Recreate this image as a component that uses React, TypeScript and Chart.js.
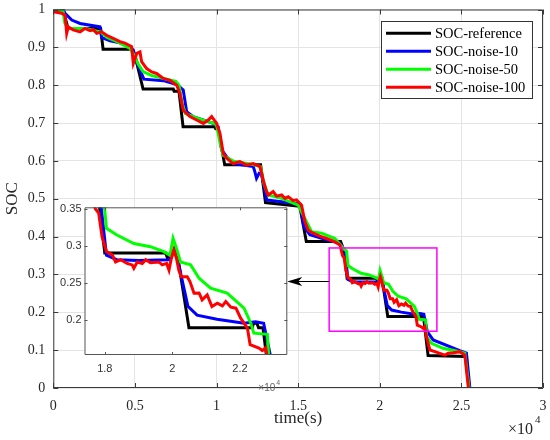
import React, { useEffect, useRef } from "react";
import { Chart, registerables } from "chart.js";
Chart.register(...registerables);

// ---------- data (time in seconds, SOC 0..1) ----------
const refT = [0, 600, 900, 2900, 3050, 4800, 4950, 5050, 5500, 7350, 7400, 7700, 7950, 9900, 9950, 10100, 10500, 12700, 13000, 15100, 15500, 17600, 17820, 18000, 19800, 19850, 19970, 20000, 20140, 20490, 22360, 22400, 22500, 22550, 22680, 22960, 25300, 25470];
const refSOC = [1.0, 1.0, 0.95, 0.95, 0.895, 0.895, 0.885, 0.87, 0.79, 0.79, 0.784, 0.784, 0.69, 0.69, 0.685, 0.685, 0.59, 0.59, 0.49, 0.48, 0.387, 0.387, 0.362, 0.29, 0.29, 0.284, 0.284, 0.29, 0.29, 0.189, 0.189, 0.195, 0.195, 0.189, 0.189, 0.086, 0.083, 0];

const n10T = [0, 600, 720, 1130, 1640, 2860, 2960, 3470, 4080, 4490, 4900, 5140, 5550, 6740, 7560, 7760, 7960, 8170, 8570, 9800, 10100, 10310, 10620, 11020, 12250, 12350, 12450, 12610, 12760, 12960, 13070, 14000, 15110, 15350, 15720, 16640, 17560, 17870, 18050, 18360, 19000, 19900, 20070, 20200, 20460, 20730, 21320, 22120, 22460, 22700, 22910, 23270, 24900, 25310, 25520];
const n10SOC = [1.0, 1.0, 0.99, 0.972, 0.963, 0.954, 0.926, 0.917, 0.912, 0.906, 0.893, 0.857, 0.816, 0.812, 0.802, 0.795, 0.787, 0.73, 0.717, 0.699, 0.69, 0.629, 0.611, 0.593, 0.585, 0.571, 0.554, 0.567, 0.565, 0.523, 0.497, 0.492, 0.486, 0.426, 0.405, 0.393, 0.382, 0.362, 0.287, 0.281, 0.28, 0.281, 0.296, 0.272, 0.218, 0.206, 0.2005, 0.195, 0.197, 0.195, 0.149, 0.127, 0.0985, 0.092, 0];

const n50T = [0, 600, 700, 900, 2000, 2900, 3300, 4000, 4700, 4850, 5000, 5200, 5500, 6000, 7000, 7500, 7700, 7900, 8100, 9000, 9800, 10000, 10200, 10400, 11000, 12300, 12700, 12900, 13170, 13990, 15000, 15410, 15820, 16440, 17250, 17760, 17970, 18050, 18360, 18860, 19350, 19750, 19930, 20020, 20120, 20240, 20540, 20790, 21130, 21620, 22120, 22320, 22410, 22810, 22870, 23170, 23880, 24900, 25210, 25470];
const n50SOC = [1.0, 0.995, 0.965, 0.95, 0.95, 0.94, 0.926, 0.913, 0.897, 0.886, 0.876, 0.856, 0.836, 0.826, 0.815, 0.81, 0.8, 0.75, 0.725, 0.71, 0.7, 0.695, 0.65, 0.615, 0.6, 0.59, 0.585, 0.54, 0.51, 0.501, 0.483, 0.448, 0.413, 0.409, 0.395, 0.369, 0.362, 0.3235, 0.3145, 0.303, 0.2987, 0.292, 0.287, 0.31, 0.2965, 0.278, 0.274, 0.256, 0.2424, 0.2357, 0.2154, 0.195, 0.1816, 0.18, 0.1355, 0.118, 0.105, 0.096, 0.092, 0];

const n100T = [0, 510, 720, 820, 920, 1220, 1640, 1940, 2250, 2450, 2660, 2960, 3270, 3670, 4080, 4390, 4800, 4900, 5110, 5310, 5410, 5720, 6030, 6330, 6740, 7150, 7560, 7760, 7960, 8370, 8780, 9190, 9490, 9700, 10010, 10210, 10410, 10620, 11020, 11430, 11840, 12250, 12660, 12860, 13070, 13170, 13470, 13680, 13990, 14190, 14390, 14700, 14900, 15210, 15410, 15620, 15920, 16330, 16740, 17250, 17560, 17720, 17820, 17920, 18050, 18220, 18320, 18470, 18660, 18810, 18860, 18960, 19110, 19210, 19350, 19600, 19700, 19830, 19900, 19970, 20040, 20120, 20190, 20260, 20440, 20520, 20640, 20790, 20880, 21030, 21170, 21330, 21480, 21580, 21730, 21880, 22020, 22220, 22300, 22560, 22660, 22760, 22860, 23070, 23380, 23680, 23990, 24190, 24500, 24900, 25210, 25430];
const n100SOC = [0.994, 0.99, 0.985, 0.937, 0.954, 0.946, 0.941, 0.95, 0.944, 0.947, 0.937, 0.941, 0.932, 0.924, 0.915, 0.911, 0.902, 0.858, 0.884, 0.888, 0.862, 0.844, 0.835, 0.831, 0.818, 0.813, 0.8, 0.778, 0.734, 0.717, 0.708, 0.699, 0.708, 0.717, 0.699, 0.673, 0.62, 0.607, 0.593, 0.598, 0.589, 0.593, 0.585, 0.549, 0.518, 0.51, 0.519, 0.507, 0.51, 0.501, 0.505, 0.495, 0.497, 0.483, 0.44, 0.417, 0.409, 0.401, 0.395, 0.386, 0.378, 0.35, 0.344, 0.312, 0.292, 0.2875, 0.278, 0.281, 0.276, 0.274, 0.2695, 0.278, 0.276, 0.281, 0.277, 0.278, 0.274, 0.276, 0.267, 0.283, 0.294, 0.283, 0.267, 0.258, 0.258, 0.2514, 0.2357, 0.236, 0.2266, 0.2334, 0.2176, 0.2222, 0.2185, 0.2243, 0.2167, 0.2154, 0.2019, 0.1884, 0.166, 0.1613, 0.158, 0.162, 0.1355, 0.1004, 0.096, 0.0916, 0.087, 0.0916, 0.093, 0.096, 0.087, 0];

const seriesNames = ["SOC-reference", "SOC-noise-10", "SOC-noise-50", "SOC-noise-100"];
const seriesColors = ["#000000", "#0000ff", "#00ff00", "#ff0000"];

const mainXTicks = [0, 5000, 10000, 15000, 20000, 25000, 30000];
const mainYTicks = [0, 0.1, 0.2, 0.3, 0.4, 0.5, 0.6, 0.7, 0.8, 0.9, 1];
const insetXTicks = [18000, 20000, 22000];
const insetYTicks = [0.2, 0.25, 0.3, 0.35];

// zoom window (data coordinates) and arrow level
const zoomT0 = 16900, zoomT1 = 23500, zoomS0 = 0.15, zoomS1 = 0.37;
const arrowSOC = 0.283;
const arrowTipT = 14330;

const SERIF = '"Liberation Serif", "Times New Roman", serif';
const SANS = '"Liberation Sans", Arial, sans-serif';

function makeDatasets(width: number) {
  const all = [
    [refT, refSOC],
    [n10T, n10SOC],
    [n50T, n50SOC],
    [n100T, n100SOC],
  ];
  return all.map(([ts, ss], i) => ({
    label: seriesNames[i],
    data: ts.map((t, k) => ({ x: t, y: ss[k] })),
    borderColor: seriesColors[i],
    backgroundColor: seriesColors[i],
    borderWidth: width,
    pointRadius: 0,
    tension: 0,
    fill: false,
    order: 3 - i,
  }));
}

function zeroPad(s: any) {
  s.paddingTop = 0;
  s.paddingBottom = 0;
  s.paddingLeft = 0;
  s.paddingRight = 0;
}

function drawFrame(chart: any, tickLen: number, color: string) {
  const { ctx, chartArea: a, scales } = chart;
  ctx.save();
  ctx.strokeStyle = color;
  ctx.lineWidth = 1;
  ctx.beginPath();
  ctx.rect(a.left + 0.5, a.top + 0.5, a.right - a.left - 1, a.bottom - a.top - 1);
  ctx.stroke();
  ctx.beginPath();
  for (const t of scales.x.ticks) {
    const px = Math.round(scales.x.getPixelForValue(t.value)) + 0.5;
    ctx.moveTo(px, a.bottom);
    ctx.lineTo(px, a.bottom - tickLen);
    ctx.moveTo(px, a.top);
    ctx.lineTo(px, a.top + tickLen);
  }
  for (const t of scales.y.ticks) {
    const py = Math.round(scales.y.getPixelForValue(t.value)) + 0.5;
    ctx.moveTo(a.left, py);
    ctx.lineTo(a.left + tickLen, py);
    ctx.moveTo(a.right, py);
    ctx.lineTo(a.right - tickLen, py);
  }
  ctx.stroke();
  ctx.restore();
}

const mainPlugin = {
  id: "mainDecor",
  afterDraw(chart: any) {
    const { ctx, scales } = chart;
    drawFrame(chart, 5, "#3a3a3a");
    const x = scales.x, y = scales.y;
    // zoom rectangle
    ctx.save();
    ctx.strokeStyle = "#ff00ff";
    ctx.lineWidth = 1.5;
    const rx0 = x.getPixelForValue(zoomT0), rx1 = x.getPixelForValue(zoomT1);
    const ry0 = y.getPixelForValue(zoomS1), ry1 = y.getPixelForValue(zoomS0);
    ctx.strokeRect(rx0, ry0, rx1 - rx0, ry1 - ry0);
    // arrow
    const ay = Math.round(y.getPixelForValue(arrowSOC)) + 0.5;
    const tip = x.getPixelForValue(arrowTipT);
    ctx.strokeStyle = "#000";
    ctx.lineWidth = 1;
    ctx.beginPath();
    ctx.moveTo(rx0, ay);
    ctx.lineTo(tip + 8, ay);
    ctx.stroke();
    ctx.fillStyle = "#000";
    ctx.beginPath();
    ctx.moveTo(tip, ay);
    ctx.lineTo(tip + 15, ay - 4.5);
    ctx.lineTo(tip + 11, ay);
    ctx.lineTo(tip + 15, ay + 4.5);
    ctx.closePath();
    ctx.fill();
    // x10^4
    ctx.fillStyle = "#262626";
    ctx.font = "16px " + SERIF;
    ctx.textBaseline = "alphabetic";
    ctx.textAlign = "left";
    ctx.fillText("\u00d710", 508, 434);
    ctx.font = "11px " + SERIF;
    ctx.fillText("4", 535, 423);
    // legend
    const lx = 381, ly = 21, lw = 151, lh = 77;
    ctx.fillStyle = "#ffffff";
    ctx.fillRect(lx, ly, lw, lh);
    ctx.strokeStyle = "#333";
    ctx.lineWidth = 1;
    ctx.strokeRect(lx + 0.5, ly + 0.5, lw, lh);
    ctx.font = "14.5px " + SERIF;
    ctx.textBaseline = "middle";
    seriesNames.forEach((name, i) => {
      const yy = 33.3 + i * 18;
      ctx.strokeStyle = seriesColors[i];
      ctx.lineWidth = 3;
      ctx.beginPath();
      ctx.moveTo(386, yy);
      ctx.lineTo(431, yy);
      ctx.stroke();
      ctx.fillStyle = "#000";
      ctx.fillText(name, 435, yy + 0.5);
    });
    ctx.restore();
  },
};

const insetPlugin = {
  id: "insetDecor",
  beforeDatasetsDraw(chart: any) {
    const { ctx, chartArea: a } = chart;
    ctx.save();
    ctx.fillStyle = "#ffffff";
    ctx.fillRect(a.left, a.top, a.right - a.left, a.bottom - a.top);
    ctx.restore();
  },
  afterDraw(chart: any) {
    const { ctx, chartArea: a } = chart;
    drawFrame(chart, 3, "#555");
    ctx.save();
    ctx.fillStyle = "#666";
    ctx.font = "10px " + SANS;
    ctx.textBaseline = "alphabetic";
    ctx.fillText("\u00d710", a.right - 29, a.bottom + 36);
    ctx.font = "7px " + SANS;
    ctx.fillText("4", a.right - 11, a.bottom + 30);
    ctx.restore();
  },
};

export default function App() {
  const mainRef = useRef<HTMLCanvasElement>(null);
  const insetRef = useRef<HTMLCanvasElement>(null);

  useEffect(() => {
    const main = new Chart(mainRef.current as HTMLCanvasElement, {
      type: "line",
      data: { datasets: makeDatasets(3) as any },
      options: {
        animation: false,
        responsive: false,
        parsing: false as any,
        layout: { padding: { left: 0, right: 7, top: 9.5, bottom: 0 } },
        plugins: { legend: { display: false }, tooltip: { enabled: false } },
        scales: {
          x: {
            type: "linear",
            min: 0,
            max: 30000,
            afterBuildTicks: (s: any) => { s.ticks = mainXTicks.map((v) => ({ value: v })); },
            afterFit: (s: any) => { s.height = 52; zeroPad(s); },
            grid: { color: "#e4e4e4", drawTicks: false },
            border: { display: false },
            ticks: {
              padding: 10,
              color: "#262626",
              font: { family: SERIF, size: 14 },
              maxRotation: 0,
              autoSkip: false,
              callback: (v: any) => String(Number(v) / 10000),
            },
            title: { display: true, text: "time(s)", color: "#262626", font: { family: SERIF, size: 17 }, padding: { top: 0, bottom: 11 } },
          },
          y: {
            type: "linear",
            min: 0,
            max: 1,
            afterBuildTicks: (s: any) => { s.ticks = mainYTicks.map((v) => ({ value: v })); },
            afterFit: (s: any) => { s.width = 53.3; zeroPad(s); },
            grid: { color: "#e4e4e4", drawTicks: false },
            border: { display: false },
            ticks: {
              padding: 8,
              color: "#262626",
              font: { family: SERIF, size: 14 },
              autoSkip: false,
              callback: (v: any) => String(v),
            },
            title: { display: true, text: "SOC", color: "#262626", font: { family: SERIF, size: 17 }, padding: { top: 2, bottom: 0 } },
          },
        },
      },
      plugins: [mainPlugin],
    });

    const inset = new Chart(insetRef.current as HTMLCanvasElement, {
      type: "line",
      data: { datasets: makeDatasets(3) as any },
      options: {
        animation: false,
        responsive: false,
        parsing: false as any,
        layout: { padding: { left: 0, right: 7.7, top: 12.3, bottom: 0 } },
        plugins: { legend: { display: false }, tooltip: { enabled: false } },
        scales: {
          x: {
            type: "linear",
            min: 17400,
            max: 23400,
            afterBuildTicks: (s: any) => { s.ticks = insetXTicks.map((v) => ({ value: v })); },
            afterFit: (s: any) => { s.height = 40; zeroPad(s); },
            grid: { display: false, drawTicks: false },
            border: { display: false },
            ticks: {
              padding: 7,
              color: "#333",
              font: { family: SANS, size: 11 },
              maxRotation: 0,
              autoSkip: false,
              callback: (v: any) => String(Number(v) / 10000),
            },
          },
          y: {
            type: "linear",
            min: 0.152,
            max: 0.352,
            afterBuildTicks: (s: any) => { s.ticks = insetYTicks.map((v) => ({ value: v })); },
            afterFit: (s: any) => { s.width = 44.5; zeroPad(s); },
            grid: { display: false, drawTicks: false },
            border: { display: false },
            ticks: {
              padding: 3,
              color: "#333",
              font: { family: SANS, size: 11 },
              autoSkip: false,
              callback: (v: any) => String(v),
            },
          },
        },
      },
      plugins: [insetPlugin],
    });

    return () => {
      main.destroy();
      inset.destroy();
    };
  }, []);

  return (
    <div style={{ position: "fixed", left: 0, top: 0, width: 550, height: 440, background: "#fff" }}>
      <canvas ref={mainRef} width={550} height={440} style={{ position: "absolute", left: 0, top: 0, width: 550, height: 440 }} />
      <canvas ref={insetRef} width={255} height={200} style={{ position: "absolute", left: 40, top: 195, width: 255, height: 200 }} />
    </div>
  );
}
